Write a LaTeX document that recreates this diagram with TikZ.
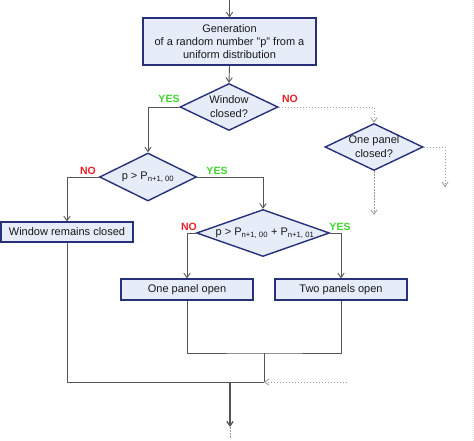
\documentclass[tikz,border=0pt]{standalone}
\usepackage{fontspec}
\setmainfont{Liberation Sans}
\usetikzlibrary{shapes.geometric,arrows.meta}
\definecolor{boxfill}{HTML}{E6ECF8}
\definecolor{boxline}{HTML}{27307A}
\definecolor{connc}{HTML}{555555}
\definecolor{dotc}{HTML}{9A9A9A}
\definecolor{yesc}{HTML}{3FD62A}
\definecolor{noc}{HTML}{E8202A}
\begin{document}
\begin{tikzpicture}[x=1pt,y=-1pt,
  font=\fontsize{11}{13}\selectfont,
  procbox/.style={draw=boxline, fill=boxfill, line width=1.2pt, inner sep=0pt, align=center, text=black!90},
  decision/.style={diamond, draw=boxline, fill=boxfill, line width=1.4pt, inner sep=0pt},
  dtext/.style={inner sep=0pt, align=center, text=black!90, font=\fontsize{11}{14}\selectfont},
  conn/.style={draw=connc, line width=0.9pt, -{Straight Barb[angle=70:5.5pt]}},
  plain/.style={draw=connc, line width=0.9pt},
  dotconn/.style={draw=dotc, line width=0.8pt, dash pattern=on 1.5pt off 1.5pt, -{Straight Barb[angle=70:5.5pt]}},
  dotline/.style={draw=dotc, line width=0.8pt, dash pattern=on 1.5pt off 1.5pt},
  yeslab/.style={text=yesc, inner sep=0pt, font=\fontsize{10.5}{11}\selectfont\bfseries},
  nolab/.style={text=noc, inner sep=0pt, font=\fontsize{10.5}{11}\selectfont\bfseries}]
\useasboundingbox (0,0) rectangle (474,441);

% faint right border
\coordinate (e1) at (473,0);
\coordinate (e2) at (473,441);
\draw[draw=black!12, dash pattern=on 1pt off 1pt] (e1) -- (e2);

% process boxes
\node[procbox, minimum width=173pt, minimum height=47pt] (gen) at (229.5,41.5)
  {Generation\\of a random number "p" from a\\uniform distribution};
\node[procbox, minimum width=132pt, minimum height=20pt] (wrc) at (67,232) {Window remains closed};
\node[procbox, minimum width=132pt, minimum height=21pt] (opo) at (187,289.5) {One panel open};
\node[procbox, minimum width=132pt, minimum height=21pt] (tpo) at (341,289.5) {Two panels open};

% decisions
\node[decision, minimum width=98pt, minimum height=47pt] (d1) at (229,107) {};
\node[dtext] (d1t) at (d1.center) {Window\\closed?};
\node[decision, minimum width=97pt, minimum height=48pt] (d2) at (148,177) {};
\node[dtext] (d2t) at (d2.center) {p > P\textsubscript{n+1, 00}};
\node[decision, minimum width=133pt, minimum height=47pt] (d3) at (263,233) {};
\node[dtext] (d3t) at (265,233) {p > P\textsubscript{n+1, 00} + P\textsubscript{n+1, 01}};
\node[decision, minimum width=98pt, minimum height=47pt] (d4) at (374,147) {};
\node[dtext] (d4t) at (d4.center) {One panel\\closed?};

% labels
\node[yeslab] (y1) at (169,99) {YES};
\node[nolab]  (n1) at (290,99) {NO};
\node[nolab]  (n2) at (88,171) {NO};
\node[yeslab] (y2) at (217,171) {YES};
\node[nolab]  (n3) at (189,227) {NO};
\node[yeslab] (y3) at (340,227) {YES};

% coordinates
\coordinate (top) at (229.5,0);
\coordinate (r1) at (445,187);
\coordinate (r2) at (374,215);
\coordinate (j1) at (264,353);
\coordinate (j2) at (264,382);
\coordinate (j3) at (230,382);
\coordinate (out) at (230,427);
\coordinate (outend) at (230,438);
\coordinate (inR) at (347,382);

% connectors
\draw[conn] (top) -- (gen.north);
\draw[conn] (gen.south) -- (d1.north);
\draw[conn] (d1.west) -| (d2.north);
\draw[conn] (d2.west) -| (wrc.north);
\draw[conn] (d2.east) -| (d3.north);
\draw[conn] (d3.west) -| (opo.north);
\draw[conn] (d3.east) -| (tpo.north);
\draw[dotconn] (d1.east) -| (d4.north);
\draw[dotconn] (d4.east) -| (r1);
\draw[dotconn] (d4.south) -- (r2);
\draw[plain] (opo.south) |- (j1) -| (tpo.south);
\draw[plain] (j1) -- (j2);
\draw[plain] (wrc.south) |- (j2);
\draw[dotconn] (inR) -- (j2);
\draw[conn, line width=1.3pt] (j3) -- (out);
\draw[dotline] (out) -- (outend);
\end{tikzpicture}
\end{document}
